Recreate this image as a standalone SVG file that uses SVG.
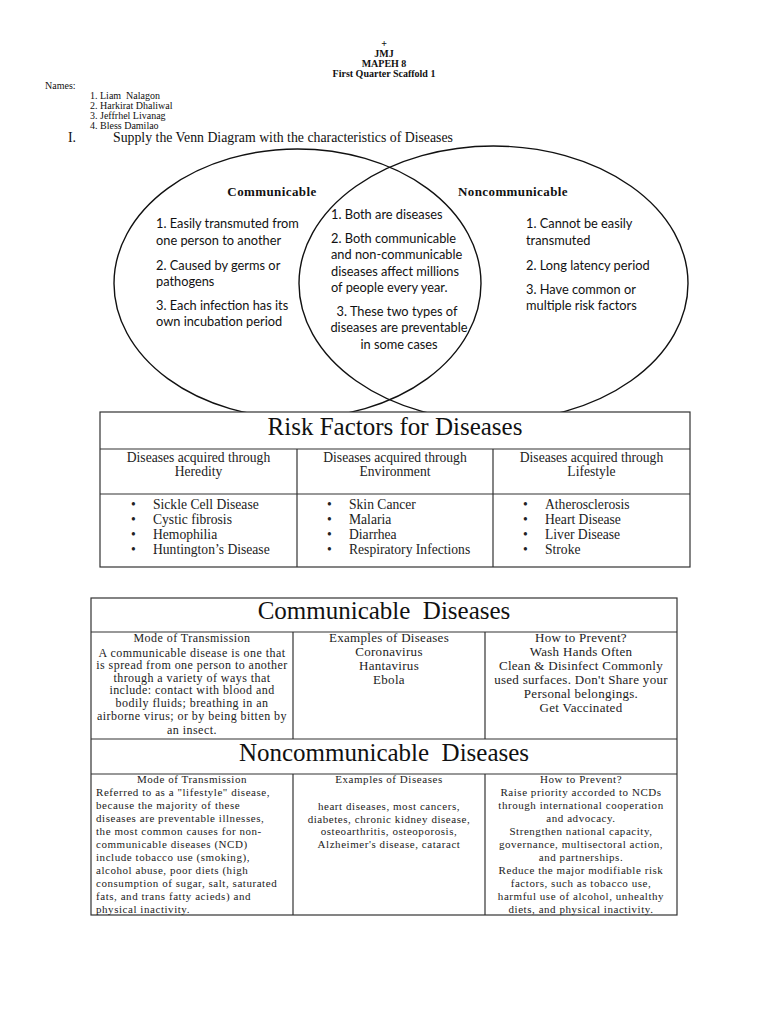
<svg xmlns="http://www.w3.org/2000/svg" width="768" height="1024" viewBox="0 0 768 1024">
<style>
.bg{fill:#ffffff}
.hd{font-family:"Liberation Serif",serif;font-weight:bold;font-size:10px;fill:#111;text-anchor:middle}
.nm{font-family:"Liberation Serif",serif;font-size:10px;fill:#111}
.ins{font-family:"Liberation Serif",serif;font-size:13.8px;fill:#111}
.ell{fill:none;stroke:#111;stroke-width:1.4}
.vh{font-family:"Liberation Serif",serif;font-weight:bold;font-size:13px;letter-spacing:0.4px;fill:#111;text-anchor:middle}
.vt{font-family:Lato,"Open Sans",sans-serif;font-size:12.8px;fill:#111}
.vc{font-family:Lato,"Open Sans",sans-serif;font-size:12.8px;fill:#111;text-anchor:middle}
.tb{fill:#ffffff;stroke:#333;stroke-width:1.2}
.ln{stroke:#333;stroke-width:1.2}
.tt{font-family:"Liberation Serif",serif;font-size:25px;fill:#111;text-anchor:middle}
.th{font-family:"Liberation Serif",serif;font-size:13.6px;fill:#222;text-anchor:middle}
.tl{font-family:"Liberation Serif",serif;font-size:13.6px;fill:#222}
.c1{font-family:"Liberation Serif",serif;font-size:12px;letter-spacing:0.45px;fill:#222;text-anchor:middle}
.c2{font-family:"Liberation Serif",serif;font-size:13px;letter-spacing:0.3px;fill:#222;text-anchor:middle}
.n1{font-family:"Liberation Serif",serif;font-size:11px;fill:#222;letter-spacing:0.55px}
.n2{font-family:"Liberation Serif",serif;font-size:11px;fill:#222;letter-spacing:0.55px;text-anchor:middle}
</style>
<rect class="bg" x="0" y="0" width="768" height="1024"/>

<g id="header">
<text class="hd" x="384" y="47">+</text>
<text class="hd" x="384" y="56.5">JMJ</text>
<text class="hd" x="384" y="67">MAPEH 8</text>
<text class="hd" x="384" y="77">First Quarter Scaffold 1</text>
<text class="nm" x="45" y="88.5">Names:</text>
<text class="nm" x="90" y="99" xml:space="preserve">1. Liam  Nalagon</text>
<text class="nm" x="90" y="108.5">2. Harkirat Dhaliwal</text>
<text class="nm" x="90" y="118.5">3. Jeffrhel Livanag</text>
<text class="nm" x="90" y="128.5">4. Bless Damilao</text>
<text class="ins" x="68" y="141.5">I.</text>
<text class="ins" x="113" y="141.5">Supply the Venn Diagram with the characteristics of Diseases</text>
</g>

<g id="venn">
<ellipse id="communicable-circle" class="ell" cx="297.5" cy="283.5" rx="183.5" ry="134.5"/>
<ellipse id="noncommunicable-circle" class="ell" cx="493.5" cy="283.5" rx="194.5" ry="137.5"/>
<g id="communicable-text">
<text class="vh" x="272" y="195.5">Communicable</text>
<text class="vt" x="156" y="227.5">1. Easily transmuted from</text>
<text class="vt" x="156" y="244.5">one person to another</text>
<text class="vt" x="156" y="269.5">2. Caused by germs or</text>
<text class="vt" x="156" y="285.5">pathogens</text>
<text class="vt" x="156" y="309.5">3. Each infection has its</text>
<text class="vt" x="156" y="325.5">own incubation period</text>
</g>
<g id="both-text">
<text class="vt" x="331" y="218.5">1. Both are diseases</text>
<text class="vt" x="331" y="242.5">2. Both communicable</text>
<text class="vt" x="331" y="259">and non-communicable</text>
<text class="vt" x="331" y="275.5">diseases affect millions</text>
<text class="vt" x="331" y="292">of people every year.</text>
<text class="vc" x="397" y="315.5">3. These two types of</text>
<text class="vc" x="399" y="332">diseases are preventable</text>
<text class="vc" x="399" y="348.5">in some cases</text>
</g>
<g id="noncommunicable-text">
<text class="vh" x="513" y="195.5">Noncommunicable</text>
<text class="vt" x="526" y="227.5">1. Cannot be easily</text>
<text class="vt" x="526" y="244.5">transmuted</text>
<text class="vt" x="526" y="269.5">2. Long latency period</text>
<text class="vt" x="526" y="293.5">3. Have common or</text>
<text class="vt" x="526" y="309.5">multiple risk factors</text>
</g>
</g>

<g id="risk-table">
<rect class="tb" x="100" y="412" width="590" height="155"/>
<line class="ln" x1="100" y1="449" x2="690" y2="449"/>
<line class="ln" x1="100" y1="494" x2="690" y2="494"/>
<line class="ln" x1="297" y1="449" x2="297" y2="567"/>
<line class="ln" x1="493" y1="449" x2="493" y2="567"/>
<text class="tt" x="395" y="435">Risk Factors for Diseases</text>
<text class="th" x="198.5" y="461.5">Diseases acquired through</text>
<text class="th" x="198.5" y="475.5">Heredity</text>
<text class="th" x="395" y="461.5">Diseases acquired through</text>
<text class="th" x="395" y="475.5">Environment</text>
<text class="th" x="591.5" y="461.5">Diseases acquired through</text>
<text class="th" x="591.5" y="475.5">Lifestyle</text>
<g id="heredity-list">
<text class="tl" x="131" y="508.5">•</text><text class="tl" x="153" y="508.5">Sickle Cell Disease</text>
<text class="tl" x="131" y="523.5">•</text><text class="tl" x="153" y="523.5">Cystic fibrosis</text>
<text class="tl" x="131" y="538.5">•</text><text class="tl" x="153" y="538.5">Hemophilia</text>
<text class="tl" x="131" y="553.5">•</text><text class="tl" x="153" y="553.5">Huntington’s Disease</text>
</g>
<g id="environment-list">
<text class="tl" x="327" y="508.5">•</text><text class="tl" x="349" y="508.5">Skin Cancer</text>
<text class="tl" x="327" y="523.5">•</text><text class="tl" x="349" y="523.5">Malaria</text>
<text class="tl" x="327" y="538.5">•</text><text class="tl" x="349" y="538.5">Diarrhea</text>
<text class="tl" x="327" y="553.5">•</text><text class="tl" x="349" y="553.5">Respiratory Infections</text>
</g>
<g id="lifestyle-list">
<text class="tl" x="523" y="508.5">•</text><text class="tl" x="545" y="508.5">Atherosclerosis</text>
<text class="tl" x="523" y="523.5">•</text><text class="tl" x="545" y="523.5">Heart Disease</text>
<text class="tl" x="523" y="538.5">•</text><text class="tl" x="545" y="538.5">Liver Disease</text>
<text class="tl" x="523" y="553.5">•</text><text class="tl" x="545" y="553.5">Stroke</text>
</g>
</g>

<g id="diseases-table">
<rect class="tb" x="91" y="598" width="586" height="317"/>
<line class="ln" x1="91" y1="632" x2="677" y2="632"/>
<line class="ln" x1="91" y1="739" x2="677" y2="739"/>
<line class="ln" x1="91" y1="774" x2="677" y2="774"/>
<line class="ln" x1="293" y1="632" x2="293" y2="739"/>
<line class="ln" x1="485" y1="632" x2="485" y2="739"/>
<line class="ln" x1="293" y1="774" x2="293" y2="915"/>
<line class="ln" x1="485" y1="774" x2="485" y2="915"/>
<text class="tt" x="384" y="619" xml:space="preserve">Communicable  Diseases</text>
<g id="comm-mode">
<text class="c1" x="192" y="642">Mode of Transmission</text>
<text class="c1" x="192" y="657">A communicable disease is one that</text>
<text class="c1" x="192" y="669">is spread from one person to another</text>
<text class="c1" x="192" y="682">through a variety of ways that</text>
<text class="c1" x="192" y="694">include: contact with blood and</text>
<text class="c1" x="192" y="707">bodily fluids; breathing in an</text>
<text class="c1" x="192" y="720">airborne virus; or by being bitten by</text>
<text class="c1" x="192" y="734">an insect.</text>
</g>
<g id="comm-examples">
<text class="c2" x="389" y="642">Examples of Diseases</text>
<text class="c2" x="389" y="656">Coronavirus</text>
<text class="c2" x="389" y="670">Hantavirus</text>
<text class="c2" x="389" y="684">Ebola</text>
</g>
<g id="comm-prevent">
<text class="c2" x="581" y="642">How to Prevent?</text>
<text class="c2" x="581" y="656">Wash Hands Often</text>
<text class="c2" x="581" y="670">Clean &amp; Disinfect Commonly</text>
<text class="c2" x="581" y="684">used surfaces. Don't Share your</text>
<text class="c2" x="581" y="698">Personal belongings.</text>
<text class="c2" x="581" y="712">Get Vaccinated</text>
</g>
<text class="tt" x="384" y="761" xml:space="preserve">Noncommunicable  Diseases</text>
<g id="noncomm-mode">
<text class="n2" x="192" y="783">Mode of Transmission</text>
<text class="n1" x="96" y="796">Referred to as a "lifestyle" disease,</text>
<text class="n1" x="96" y="809">because the majority of these</text>
<text class="n1" x="96" y="822">diseases are preventable illnesses,</text>
<text class="n1" x="96" y="835">the most common causes for non-</text>
<text class="n1" x="96" y="848">communicable diseases (NCD)</text>
<text class="n1" x="96" y="861">include tobacco use (smoking),</text>
<text class="n1" x="96" y="874">alcohol abuse, poor diets (high</text>
<text class="n1" x="96" y="887">consumption of sugar, salt, saturated</text>
<text class="n1" x="96" y="900">fats, and trans fatty acieds) and</text>
<text class="n1" x="96" y="913">physical inactivity.</text>
</g>
<g id="noncomm-examples">
<text class="n2" x="389" y="783">Examples of Diseases</text>
<text class="n2" x="389" y="810">heart diseases, most cancers,</text>
<text class="n2" x="389" y="823">diabetes, chronic kidney disease,</text>
<text class="n2" x="389" y="835">osteoarthritis, osteoporosis,</text>
<text class="n2" x="389" y="848">Alzheimer's disease, cataract</text>
</g>
<g id="noncomm-prevent">
<text class="n2" x="581" y="783">How to Prevent?</text>
<text class="n2" x="581" y="796">Raise priority accorded to NCDs</text>
<text class="n2" x="581" y="809">through international cooperation</text>
<text class="n2" x="581" y="822">and advocacy.</text>
<text class="n2" x="581" y="835">Strengthen national capacity,</text>
<text class="n2" x="581" y="848">governance, multisectoral action,</text>
<text class="n2" x="581" y="861">and partnerships.</text>
<text class="n2" x="581" y="874">Reduce the major modifiable risk</text>
<text class="n2" x="581" y="887">factors, such as tobacco use,</text>
<text class="n2" x="581" y="900">harmful use of alcohol, unhealthy</text>
<text class="n2" x="581" y="913">diets, and physical inactivity.</text>
</g>
</g>
</svg>
